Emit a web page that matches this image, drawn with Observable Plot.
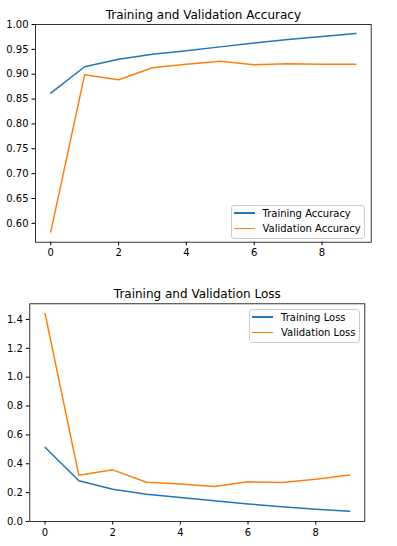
<!DOCTYPE html>
<html><head><meta charset="utf-8">
<script src="https://cdn.jsdelivr.net/npm/d3@7"></script>
<script src="https://cdn.jsdelivr.net/npm/@observablehq/plot@0.6"></script>
<style>
body{margin:0;background:#fff;font-family:"DejaVu Sans",sans-serif;}
#wrap{position:relative;width:397px;height:546px;overflow:hidden;}
.panel{position:absolute;left:0;}
.legend{position:absolute;background:rgba(255,255,255,0.8);border:1px solid #cccccc;border-radius:3px;font-size:10px;color:#000;box-sizing:border-box;padding:0 3px 2px 2px;}
.row{display:flex;align-items:center;height:15.3px;white-space:nowrap;}
.sw{display:inline-block;width:21px;height:1.6px;margin-right:8px;}
</style>
</head><body>
<div id="wrap"></div>
<script>
const epochs = [0,1,2,3,4,5,6,7,8,9];
const trainAcc = [0.862,0.915,0.930,0.940,0.947,0.955,0.963,0.970,0.976,0.982];
const valAcc   = [0.583,0.899,0.889,0.913,0.920,0.926,0.919,0.921,0.920,0.920];
const trainLoss = [0.514,0.282,0.224,0.189,0.166,0.144,0.122,0.102,0.085,0.071];
const valLoss   = [1.442,0.320,0.358,0.272,0.260,0.242,0.275,0.270,0.293,0.323];
const xTicks = [0,2,4,6,8];
const accTicks = [0.60,0.65,0.70,0.75,0.80,0.85,0.90,0.95,1.00];
const lossTicks = [0.0,0.2,0.4,0.6,0.8,1.0,1.2,1.4];
const accTitle = "Training and Validation Accuracy";
const lossTitle = "Training and Validation Loss";
const accSeries = ["Training Accuracy","Validation Accuracy"];
const lossSeries = ["Training Loss","Validation Loss"];
const colors = ["#1f77b4","#ff7f0e"];

function rows(a, b) {
  return epochs.map((e,i)=>({epoch:e, a:a[i], b:b[i]}));
}

function panel(opts) {
  const data = rows(opts.a, opts.b);
  return Plot.plot({
    width: 397, height: opts.height,
    marginTop: opts.mt, marginBottom: opts.mb, marginLeft: opts.ml, marginRight: opts.mr,
    style: {fontFamily: "DejaVu Sans, sans-serif", fontSize: "10px", color: "#000", background: "transparent", overflow: "visible"},
    x: {domain: [-0.45, 9.45]},
    y: {domain: opts.ydomain},
    marks: [
      Plot.line(data, {x: "epoch", y: "a", stroke: colors[0], strokeWidth: 1.5}),
      Plot.line(data, {x: "epoch", y: "b", stroke: colors[1], strokeWidth: 1.5}),
      Plot.frame({stroke: "#000", strokeWidth: 0.8}),
      Plot.axisX({ticks: xTicks, tickFormat: d => String(d), tickSize: 3.5, tickPadding: 3.5, label: null}),
      Plot.axisY({ticks: opts.yticks, tickFormat: opts.yfmt, tickSize: 3.5, tickPadding: 3.5, label: null}),
      Plot.text([opts.title], {text: d => d, frameAnchor: "top", lineAnchor: "bottom", dy: -6, fontSize: 12})
    ]
  });
}

function legend(labels, style) {
  const div = document.createElement("div");
  div.className = "legend";
  Object.assign(div.style, style);
  labels.forEach((l, i) => {
    const r = document.createElement("div");
    r.className = "row";
    const s = document.createElement("span");
    s.className = "sw"; s.style.background = colors[i];
    r.appendChild(s);
    r.appendChild(document.createTextNode(l));
    div.appendChild(r);
  });
  return div;
}

const wrap = document.getElementById("wrap");

const top1 = document.createElement("div");
top1.className = "panel"; top1.style.top = "0px";
top1.appendChild(panel({a: trainAcc, b: valAcc, height: 270, mt: 24, mb: 28.3, ml: 35, mr: 26.3,
  ydomain: [0.5621, 1.0], yticks: accTicks, yfmt: ".2f", title: accTitle}));
top1.appendChild(legend(accSeries, {left: "230.5px", top: "204.5px"}));
wrap.appendChild(top1);

const bot = document.createElement("div");
bot.className = "panel"; bot.style.top = "270px";
bot.appendChild(panel({a: trainLoss, b: valLoss, height: 276, mt: 33.3, mb: 25, ml: 29.3, mr: 32.7,
  ydomain: [0, 1.5085], yticks: lossTicks, yfmt: ".1f", title: lossTitle}));
bot.appendChild(legend(lossSeries, {left: "249px", top: "38.5px"}));
wrap.appendChild(bot);
</script>
</body></html>
